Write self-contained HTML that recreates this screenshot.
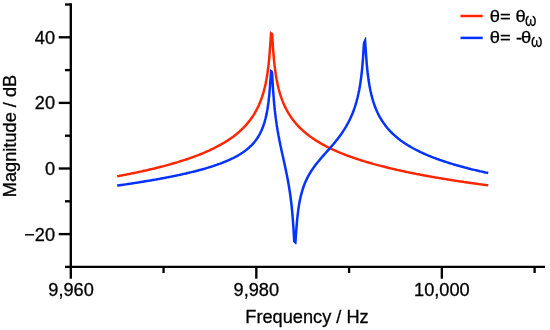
<!DOCTYPE html><html><head><meta charset="utf-8"><style>html,body{margin:0;padding:0;background:#fff}</style></head><body><svg width="550" height="330" viewBox="0 0 550 330" style="display:block">
<rect width="550" height="330" fill="#fff"/>
<path d="M117.18,176.28 L118.11,176.11 L119.04,175.94 L119.96,175.76 L120.89,175.59 L121.82,175.41 L122.75,175.23 L123.67,175.06 L124.60,174.88 L125.53,174.70 L126.46,174.51 L127.39,174.33 L128.31,174.15 L129.24,173.96 L130.17,173.78 L131.10,173.59 L132.02,173.40 L132.95,173.21 L133.88,173.02 L134.81,172.83 L135.73,172.63 L136.66,172.44 L137.59,172.24 L138.52,172.04 L139.44,171.84 L140.37,171.64 L141.30,171.44 L142.23,171.24 L143.15,171.03 L144.08,170.82 L145.01,170.62 L145.94,170.41 L146.87,170.20 L147.79,169.98 L148.72,169.77 L149.65,169.55 L150.58,169.33 L151.50,169.12 L152.43,168.89 L153.36,168.67 L154.29,168.45 L155.21,168.22 L156.14,167.99 L157.07,167.76 L158.00,167.53 L158.92,167.30 L159.85,167.06 L160.78,166.82 L161.71,166.58 L162.63,166.34 L163.56,166.10 L164.49,165.85 L165.42,165.60 L166.35,165.35 L167.27,165.10 L168.20,164.85 L169.13,164.59 L170.06,164.33 L170.98,164.07 L171.91,163.81 L172.84,163.54 L173.77,163.27 L174.69,163.00 L175.62,162.72 L176.55,162.45 L177.48,162.17 L178.40,161.89 L179.33,161.60 L180.26,161.31 L181.19,161.02 L182.12,160.73 L183.04,160.43 L183.97,160.13 L184.90,159.83 L185.83,159.52 L186.75,159.21 L187.68,158.90 L188.61,158.58 L189.54,158.26 L190.46,157.93 L191.39,157.61 L192.32,157.27 L193.25,156.94 L194.17,156.60 L195.10,156.26 L196.03,155.91 L196.96,155.56 L197.88,155.20 L198.81,154.84 L199.74,154.47 L200.67,154.10 L201.60,153.73 L202.52,153.35 L203.45,152.96 L204.38,152.57 L205.31,152.17 L206.23,151.77 L207.16,151.36 L208.09,150.95 L209.02,150.53 L209.94,150.10 L210.87,149.67 L211.80,149.23 L212.73,148.79 L213.65,148.33 L214.58,147.87 L215.51,147.41 L216.44,146.93 L217.36,146.45 L218.29,145.95 L219.22,145.45 L220.15,144.94 L221.08,144.42 L222.00,143.90 L222.93,143.36 L223.86,142.81 L224.79,142.25 L225.71,141.68 L226.64,141.10 L227.57,140.50 L228.50,139.89 L229.42,139.27 L230.35,138.64 L231.28,137.99 L232.21,137.32 L233.13,136.64 L234.06,135.95 L234.99,135.23 L235.92,134.50 L236.84,133.75 L237.77,132.98 L238.70,132.18 L239.63,131.37 L240.56,130.53 L241.48,129.66 L242.41,128.77 L243.34,127.85 L244.27,126.89 L245.19,125.91 L246.12,124.89 L247.05,123.83 L247.98,122.73 L248.90,121.59 L249.83,120.39 L250.76,119.15 L251.69,117.85 L252.61,116.49 L253.54,115.06 L254.47,113.55 L255.40,111.96 L256.32,110.28 L257.25,108.49 L258.18,106.58 L259.11,104.54 L260.04,102.34 L260.96,99.95 L261.89,97.35 L262.82,94.49 L263.75,91.31 L264.67,87.74 L265.60,83.67 L266.53,78.93 L267.46,73.27 L268.38,66.29 L269.31,57.26 L270.24,44.99 L271.17,31.30 L272.09,33.53 L273.02,48.28 L273.95,59.64 L274.88,68.07 L275.81,74.67 L276.73,80.06 L277.66,84.61 L278.59,88.54 L279.52,91.99 L280.44,95.08 L281.37,97.86 L282.30,100.39 L283.23,102.72 L284.15,104.87 L285.08,106.87 L286.01,108.74 L286.94,110.49 L287.86,112.14 L288.79,113.70 L289.72,115.18 L290.65,116.58 L291.57,117.92 L292.50,119.20 L293.43,120.42 L294.36,121.59 L295.29,122.72 L296.21,123.80 L297.14,124.84 L298.07,125.85 L299.00,126.82 L299.92,127.75 L300.85,128.66 L301.78,129.54 L302.71,130.40 L303.63,131.22 L304.56,132.03 L305.49,132.81 L306.42,133.57 L307.34,134.31 L308.27,135.04 L309.20,135.74 L310.13,136.43 L311.05,137.10 L311.98,137.75 L312.91,138.39 L313.84,139.02 L314.77,139.63 L315.69,140.23 L316.62,140.82 L317.55,141.40 L318.48,141.96 L319.40,142.51 L320.33,143.06 L321.26,143.59 L322.19,144.11 L323.11,144.62 L324.04,145.13 L324.97,145.62 L325.90,146.11 L326.82,146.59 L327.75,147.06 L328.68,147.52 L329.61,147.98 L330.54,148.42 L331.46,148.87 L332.39,149.30 L333.32,149.73 L334.25,150.15 L335.17,150.57 L336.10,150.98 L337.03,151.38 L337.96,151.78 L338.88,152.17 L339.81,152.56 L340.74,152.94 L341.67,153.32 L342.59,153.69 L343.52,154.05 L344.45,154.42 L345.38,154.78 L346.30,155.13 L347.23,155.48 L348.16,155.82 L349.09,156.16 L350.02,156.50 L350.94,156.83 L351.87,157.16 L352.80,157.49 L353.73,157.81 L354.65,158.13 L355.58,158.44 L356.51,158.75 L357.44,159.06 L358.36,159.37 L359.29,159.67 L360.22,159.96 L361.15,160.26 L362.07,160.55 L363.00,160.84 L363.93,161.13 L364.86,161.41 L365.78,161.69 L366.71,161.97 L367.64,162.24 L368.57,162.52 L369.50,162.79 L370.42,163.05 L371.35,163.32 L372.28,163.58 L373.21,163.84 L374.13,164.10 L375.06,164.35 L375.99,164.61 L376.92,164.86 L377.84,165.11 L378.77,165.35 L379.70,165.60 L380.63,165.84 L381.55,166.08 L382.48,166.32 L383.41,166.56 L384.34,166.79 L385.26,167.02 L386.19,167.25 L387.12,167.48 L388.05,167.71 L388.98,167.94 L389.90,168.16 L390.83,168.38 L391.76,168.60 L392.69,168.82 L393.61,169.04 L394.54,169.25 L395.47,169.46 L396.40,169.68 L397.32,169.89 L398.25,170.10 L399.18,170.30 L400.11,170.51 L401.03,170.71 L401.96,170.92 L402.89,171.12 L403.82,171.32 L404.75,171.52 L405.67,171.71 L406.60,171.91 L407.53,172.10 L408.46,172.30 L409.38,172.49 L410.31,172.68 L411.24,172.87 L412.17,173.06 L413.09,173.24 L414.02,173.43 L414.95,173.61 L415.88,173.80 L416.80,173.98 L417.73,174.16 L418.66,174.34 L419.59,174.52 L420.51,174.70 L421.44,174.87 L422.37,175.05 L423.30,175.22 L424.23,175.40 L425.15,175.57 L426.08,175.74 L427.01,175.91 L427.94,176.08 L428.86,176.25 L429.79,176.42 L430.72,176.58 L431.65,176.75 L432.57,176.91 L433.50,177.07 L434.43,177.24 L435.36,177.40 L436.28,177.56 L437.21,177.72 L438.14,177.88 L439.07,178.04 L439.99,178.19 L440.92,178.35 L441.85,178.51 L442.78,178.66 L443.71,178.81 L444.63,178.97 L445.56,179.12 L446.49,179.27 L447.42,179.42 L448.34,179.57 L449.27,179.72 L450.20,179.87 L451.13,180.01 L452.05,180.16 L452.98,180.31 L453.91,180.45 L454.84,180.60 L455.76,180.74 L456.69,180.88 L457.62,181.03 L458.55,181.17 L459.47,181.31 L460.40,181.45 L461.33,181.59 L462.26,181.73 L463.19,181.86 L464.11,182.00 L465.04,182.14 L465.97,182.27 L466.90,182.41 L467.82,182.55 L468.75,182.68 L469.68,182.81 L470.61,182.95 L471.53,183.08 L472.46,183.21 L473.39,183.34 L474.32,183.47 L475.24,183.60 L476.17,183.73 L477.10,183.86 L478.03,183.99 L478.96,184.12 L479.88,184.24 L480.81,184.37 L481.74,184.50 L482.67,184.62 L483.59,184.75 L484.52,184.87 L485.45,184.99 L486.38,185.12 L487.30,185.24 L488.23,185.36" fill="none" stroke="#ff2600" stroke-width="2.5" stroke-linejoin="bevel"/>
<path d="M270.3,31.2 L273.6,33.75 V29 H270.3 Z" fill="#fff"/>
<path d="M117.18,185.56 L118.11,185.43 L119.04,185.30 L119.96,185.17 L120.89,185.04 L121.82,184.91 L122.75,184.77 L123.67,184.64 L124.60,184.51 L125.53,184.37 L126.46,184.24 L127.39,184.10 L128.31,183.96 L129.24,183.82 L130.17,183.68 L131.10,183.55 L132.02,183.40 L132.95,183.26 L133.88,183.12 L134.81,182.98 L135.73,182.84 L136.66,182.69 L137.59,182.55 L138.52,182.40 L139.44,182.25 L140.37,182.10 L141.30,181.96 L142.23,181.81 L143.15,181.66 L144.08,181.50 L145.01,181.35 L145.94,181.20 L146.87,181.04 L147.79,180.89 L148.72,180.73 L149.65,180.58 L150.58,180.42 L151.50,180.26 L152.43,180.10 L153.36,179.94 L154.29,179.77 L155.21,179.61 L156.14,179.45 L157.07,179.28 L158.00,179.11 L158.92,178.94 L159.85,178.78 L160.78,178.60 L161.71,178.43 L162.63,178.26 L163.56,178.09 L164.49,177.91 L165.42,177.73 L166.35,177.55 L167.27,177.38 L168.20,177.19 L169.13,177.01 L170.06,176.83 L170.98,176.64 L171.91,176.46 L172.84,176.27 L173.77,176.08 L174.69,175.89 L175.62,175.69 L176.55,175.50 L177.48,175.30 L178.40,175.11 L179.33,174.91 L180.26,174.70 L181.19,174.50 L182.12,174.30 L183.04,174.09 L183.97,173.88 L184.90,173.67 L185.83,173.46 L186.75,173.24 L187.68,173.02 L188.61,172.81 L189.54,172.58 L190.46,172.36 L191.39,172.14 L192.32,171.91 L193.25,171.68 L194.17,171.44 L195.10,171.21 L196.03,170.97 L196.96,170.73 L197.88,170.49 L198.81,170.24 L199.74,169.99 L200.67,169.74 L201.60,169.48 L202.52,169.23 L203.45,168.96 L204.38,168.70 L205.31,168.43 L206.23,168.16 L207.16,167.88 L208.09,167.61 L209.02,167.32 L209.94,167.04 L210.87,166.75 L211.80,166.45 L212.73,166.15 L213.65,165.85 L214.58,165.54 L215.51,165.22 L216.44,164.91 L217.36,164.58 L218.29,164.25 L219.22,163.92 L220.15,163.58 L221.08,163.23 L222.00,162.88 L222.93,162.52 L223.86,162.15 L224.79,161.78 L225.71,161.40 L226.64,161.01 L227.57,160.61 L228.50,160.21 L229.42,159.79 L230.35,159.37 L231.28,158.93 L232.21,158.49 L233.13,158.04 L234.06,157.57 L234.99,157.09 L235.92,156.60 L236.84,156.09 L237.77,155.57 L238.70,155.03 L239.63,154.48 L240.56,153.91 L241.48,153.32 L242.41,152.71 L243.34,152.08 L244.27,151.43 L245.19,150.75 L246.12,150.04 L247.05,149.31 L247.98,148.54 L248.90,147.74 L249.83,146.90 L250.76,146.02 L251.69,145.09 L252.61,144.11 L253.54,143.08 L254.47,141.98 L255.40,140.81 L256.32,139.56 L257.25,138.22 L258.18,136.78 L259.11,135.21 L260.04,133.51 L260.96,131.64 L261.89,129.57 L262.82,127.27 L263.75,124.66 L264.67,121.69 L265.60,118.24 L266.53,114.15 L267.46,109.17 L268.38,102.90 L269.31,94.61 L270.24,83.11 L271.17,69.38 L272.09,73.32 L273.02,88.98 L273.95,101.30 L274.88,110.74 L275.81,118.41 L276.73,124.93 L277.66,130.69 L278.59,135.90 L279.52,140.73 L280.44,145.28 L281.37,149.65 L282.30,153.90 L283.23,158.09 L284.15,162.28 L285.08,166.52 L286.01,170.88 L286.94,175.43 L287.86,180.25 L288.79,185.46 L289.72,191.22 L290.65,197.76 L291.57,205.48 L292.50,215.04 L293.43,227.58 L294.36,243.19 L295.29,244.10 L296.21,230.89 L297.14,219.59 L298.07,211.39 L299.00,205.12 L299.92,200.09 L300.85,195.92 L301.78,192.36 L302.71,189.26 L303.63,186.51 L304.56,184.05 L305.49,181.81 L306.42,179.76 L307.34,177.86 L308.27,176.09 L309.20,174.43 L310.13,172.86 L311.05,171.37 L311.98,169.96 L312.91,168.60 L313.84,167.29 L314.77,166.02 L315.69,164.80 L316.62,163.61 L317.55,162.44 L318.48,161.30 L319.40,160.19 L320.33,159.09 L321.26,158.00 L322.19,156.93 L323.11,155.87 L324.04,154.81 L324.97,153.76 L325.90,152.71 L326.82,151.67 L327.75,150.62 L328.68,149.57 L329.61,148.51 L330.54,147.45 L331.46,146.38 L332.39,145.30 L333.32,144.20 L334.25,143.09 L335.17,141.96 L336.10,140.82 L337.03,139.65 L337.96,138.46 L338.88,137.24 L339.81,135.99 L340.74,134.71 L341.67,133.39 L342.59,132.03 L343.52,130.63 L344.45,129.18 L345.38,127.68 L346.30,126.11 L347.23,124.48 L348.16,122.77 L349.09,120.97 L350.02,119.08 L350.94,117.08 L351.87,114.95 L352.80,112.68 L353.73,110.24 L354.65,107.60 L355.58,104.72 L356.51,101.55 L357.44,98.02 L358.36,94.04 L359.29,89.47 L360.22,84.09 L361.15,77.57 L362.07,69.33 L363.00,58.36 L363.93,43.75 L364.86,37.18 L365.78,50.90 L366.71,63.63 L367.64,72.94 L368.57,80.07 L369.50,85.79 L370.42,90.56 L371.35,94.63 L372.28,98.19 L373.21,101.34 L374.13,104.16 L375.06,106.72 L375.99,109.06 L376.92,111.21 L377.84,113.21 L378.77,115.07 L379.70,116.80 L380.63,118.43 L381.55,119.97 L382.48,121.42 L383.41,122.80 L384.34,124.11 L385.26,125.36 L386.19,126.55 L387.12,127.69 L388.05,128.78 L388.98,129.83 L389.90,130.84 L390.83,131.81 L391.76,132.75 L392.69,133.65 L393.61,134.53 L394.54,135.38 L395.47,136.19 L396.40,136.99 L397.32,137.76 L398.25,138.51 L399.18,139.24 L400.11,139.95 L401.03,140.64 L401.96,141.31 L402.89,141.96 L403.82,142.60 L404.75,143.23 L405.67,143.84 L406.60,144.43 L407.53,145.01 L408.46,145.58 L409.38,146.14 L410.31,146.69 L411.24,147.22 L412.17,147.74 L413.09,148.26 L414.02,148.76 L414.95,149.25 L415.88,149.74 L416.80,150.22 L417.73,150.68 L418.66,151.14 L419.59,151.59 L420.51,152.04 L421.44,152.47 L422.37,152.90 L423.30,153.32 L424.23,153.74 L425.15,154.15 L426.08,154.55 L427.01,154.95 L427.94,155.34 L428.86,155.72 L429.79,156.10 L430.72,156.48 L431.65,156.85 L432.57,157.21 L433.50,157.57 L434.43,157.92 L435.36,158.27 L436.28,158.62 L437.21,158.96 L438.14,159.29 L439.07,159.62 L439.99,159.95 L440.92,160.27 L441.85,160.59 L442.78,160.91 L443.71,161.22 L444.63,161.53 L445.56,161.83 L446.49,162.14 L447.42,162.43 L448.34,162.73 L449.27,163.02 L450.20,163.31 L451.13,163.59 L452.05,163.87 L452.98,164.15 L453.91,164.43 L454.84,164.70 L455.76,164.97 L456.69,165.24 L457.62,165.51 L458.55,165.77 L459.47,166.03 L460.40,166.29 L461.33,166.54 L462.26,166.79 L463.19,167.04 L464.11,167.29 L465.04,167.54 L465.97,167.78 L466.90,168.02 L467.82,168.26 L468.75,168.50 L469.68,168.73 L470.61,168.97 L471.53,169.20 L472.46,169.43 L473.39,169.65 L474.32,169.88 L475.24,170.10 L476.17,170.32 L477.10,170.54 L478.03,170.76 L478.96,170.97 L479.88,171.19 L480.81,171.40 L481.74,171.61 L482.67,171.82 L483.59,172.03 L484.52,172.23 L485.45,172.44 L486.38,172.64 L487.30,172.84 L488.23,173.04" fill="none" stroke="#0433ff" stroke-width="2.5" stroke-linejoin="bevel"/>
<path d="M270.4,69.1 L273.2,71.25 V67 H270.4 Z" fill="#fff"/>
<path d="M362.4,43.4 L365.6,36.4 V34.5 H362.4 Z" fill="#fff"/>
<path d="M292.4,241.3 L296.0,244.8 V247.5 H292.4 Z" fill="#fff"/>
<g stroke="#000" stroke-width="2.35" fill="none">
<path d="M70.8,3.33 V268.07"/>
<path d="M69.63,266.9 H545"/>
</g><g stroke="#000" stroke-width="2.35" fill="none">
<path d="M65,266.90 H70.8"/>
<path d="M58.7,234.10 H70.8"/>
<path d="M65,201.30 H70.8"/>
<path d="M58.7,168.50 H70.8"/>
<path d="M65,135.70 H70.8"/>
<path d="M58.7,102.90 H70.8"/>
<path d="M65,70.10 H70.8"/>
<path d="M58.7,37.30 H70.8"/>
<path d="M65,4.50 H70.8"/>
<path d="M70.80,266.9 V278.7"/>
<path d="M163.56,266.9 V273"/>
<path d="M256.32,266.9 V278.7"/>
<path d="M349.09,266.9 V273"/>
<path d="M441.85,266.9 V278.7"/>
<path d="M534.61,266.9 V273"/>
</g>
<g font-family="Liberation Sans, Arial, sans-serif" font-size="18.2" fill="#000" stroke="#000" stroke-width="0.3">
<text x="55.1" y="43.70" text-anchor="end">40</text>
<text x="55.1" y="109.30" text-anchor="end">20</text>
<text x="55.1" y="174.90" text-anchor="end">0</text>
<text x="55.1" y="240.50" text-anchor="end">−20</text>
<text x="71.10" y="295.6" text-anchor="middle">9,960</text>
<text x="256.32" y="295.6" text-anchor="middle">9,980</text>
<text x="441.85" y="295.6" text-anchor="middle">10,000</text>
<text x="307" y="322.9" text-anchor="middle">Frequency / Hz</text>
<text transform="translate(15.9,136) rotate(-90)" text-anchor="middle">Magnitude / dB</text>
<text transform="translate(489.7,21.95) scale(1.07,1)" font-size="17.2">θ=</text>
<text transform="translate(515.4,21.95) scale(1.07,1)" font-size="17.2">θ</text>
<text transform="translate(525.0,26.049999999999997) scale(1.0,1.3)" font-size="14.6" stroke-width="0.2">ω</text>
<text transform="translate(489.7,43.0) scale(1.07,1)" font-size="17.2">θ=</text>
<text transform="translate(516.0,43.0) scale(1.07,1)" font-size="17.2">-</text>
<text transform="translate(520.9,43.0) scale(1.07,1)" font-size="17.2">θ</text>
<text transform="translate(530.9,47.1) scale(1.0,1.3)" font-size="14.6" stroke-width="0.2">ω</text>
</g>
<path d="M460.5,16 H482.7" stroke="#ff2600" stroke-width="2.5"/>
<path d="M460.5,37.9 H482.7" stroke="#0433ff" stroke-width="2.5"/>
</svg></body></html>
